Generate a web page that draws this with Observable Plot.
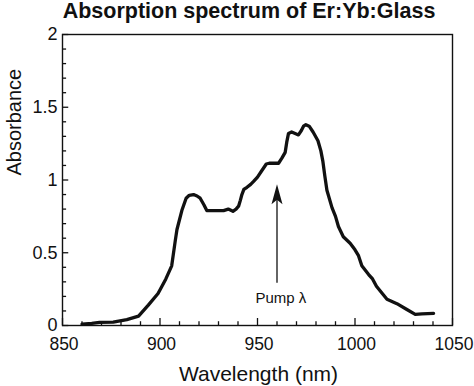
<!DOCTYPE html>
<html>
<head>
<meta charset="utf-8">
<script src="https://cdn.jsdelivr.net/npm/d3@7"></script>
<script src="https://cdn.jsdelivr.net/npm/@observablehq/plot@0.6"></script>
<style>
  html, body { margin: 0; padding: 0; background: #fff; }
</style>
</head>
<body>
<div id="chart"></div>
<script>
const wavelength = [860, 865, 869, 876, 883, 889, 894, 899, 903, 906, 907.8, 908.7, 911.2, 913.4, 915, 917.2, 919, 920.6, 922.5, 924, 928, 932.6, 935, 937.4, 939, 940.3, 941.2, 942, 943, 944.6, 946.5, 948, 950, 952, 954.5, 956, 960.8, 962.5, 964.2, 965, 965.9, 967.5, 969.3, 971, 972.5, 973.6, 974.8, 976.5, 978.5, 981, 982.5, 983.5, 984.5, 985.6, 988.2, 990, 991.5, 994, 997.5, 1000, 1001.8, 1003.5, 1007, 1009, 1011, 1014, 1016.4, 1021.5, 1026.6, 1030.9, 1034.3, 1040.3];
const absorbance = [0.01, 0.015, 0.022, 0.023, 0.04, 0.064, 0.14, 0.22, 0.32, 0.41, 0.58, 0.66, 0.79, 0.875, 0.895, 0.90, 0.89, 0.875, 0.83, 0.79, 0.79, 0.79, 0.80, 0.785, 0.80, 0.82, 0.86, 0.90, 0.935, 0.95, 0.97, 0.99, 1.02, 1.06, 1.11, 1.115, 1.115, 1.15, 1.19, 1.26, 1.32, 1.33, 1.32, 1.31, 1.34, 1.37, 1.38, 1.37, 1.33, 1.27, 1.20, 1.13, 1.03, 0.93, 0.81, 0.75, 0.68, 0.61, 0.565, 0.52, 0.48, 0.41, 0.35, 0.32, 0.27, 0.22, 0.18, 0.15, 0.11, 0.076, 0.08, 0.083];

const xMajorTicks = [850, 900, 950, 1000, 1050];
const xMinorTicks = d3.range(860, 1050, 10).filter(v => v % 50 !== 0);
const yMajorTicks = [0, 0.5, 1, 1.5, 2];
const yMinorTicks = d3.range(1, 20).map(v => v / 10).filter(v => Math.round(v * 10) % 5 !== 0);

const pumpWavelength = [960];
const pumpArrowFrom = 0.29;
const pumpArrowTo = 0.97;
const pumpLabel = "Pump λ";

const titleText = "Absorption spectrum of Er:Yb:Glass";
const xLabel = "Wavelength (nm)";
const yLabel = "Absorbance";

const spectrum = wavelength.map((w, i) => ({w, a: absorbance[i]}));

const arrowHead = {
  draw(ctx, size) {
    const s = Math.sqrt(size / Math.PI) / 5;
    ctx.moveTo(0, 0);
    ctx.lineTo(5.5 * s, 20 * s);
    ctx.lineTo(0, 15.5 * s);
    ctx.lineTo(-5.5 * s, 20 * s);
    ctx.closePath();
  }
};

const chart = Plot.plot({
  width: 474,
  height: 386,
  marginLeft: 62,
  marginRight: 22,
  marginTop: 34,
  marginBottom: 61,
  style: {fontFamily: "'Liberation Sans', Arial, Helvetica, sans-serif", fontSize: "18px", color: "#111", background: "#fff"},
  x: {domain: [850, 1050]},
  y: {domain: [0, 2]},
  marks: [
    Plot.ruleX(xMajorTicks, {x: d => d, y1: 0, y2: 0.048, stroke: "#111", strokeWidth: 1.3}),
    Plot.ruleX(xMinorTicks, {x: d => d, y1: 0, y2: 0.026, stroke: "#111", strokeWidth: 1.3}),
    Plot.ruleY(yMajorTicks, {y: d => d, x1: 850, x2: 853.2, stroke: "#111", strokeWidth: 1.3}),
    Plot.ruleY(yMinorTicks, {y: d => d, x1: 850, x2: 852.1, stroke: "#111", strokeWidth: 1.3}),
    Plot.axisX({ticks: xMajorTicks, tickSize: 0, tickPadding: 12, dx: 1.5, tickFormat: d => String(d), fontSize: 17.5, label: null}),
    Plot.axisY({ticks: yMajorTicks, tickSize: 0, tickPadding: 5, tickFormat: d => String(d), fontSize: 18, label: null}),
    Plot.frame({stroke: "#111", strokeWidth: 1.4}),
    Plot.line(spectrum, {x: "w", y: "a", stroke: "#111", strokeWidth: 3.3, strokeLinejoin: "round", strokeLinecap: "round"}),
    Plot.ruleX(pumpWavelength, {x: d => d, y1: pumpArrowFrom, y2: pumpArrowTo - 0.08, stroke: "#111", strokeWidth: 1.3}),
    Plot.dot(pumpWavelength, {x: d => d, y: pumpArrowTo, symbol: arrowHead, r: 5, fill: "#111", stroke: "none"}),
    Plot.text([pumpLabel], {x: pumpWavelength[0] + 2, y: 0.19, text: d => d, fontSize: 15, fill: "#111", lineAnchor: "middle"}),
    Plot.text([titleText], {frameAnchor: "top", text: d => d, dy: -17, dx: -8.5, lineAnchor: "bottom", fontSize: 21.5, fontWeight: "bold", fill: "#111"}),
    Plot.text([xLabel], {frameAnchor: "bottom", text: d => d, dy: 55, dx: 1, lineAnchor: "bottom", fontSize: 21, fill: "#111"}),
    Plot.text([yLabel], {frameAnchor: "left", text: d => d, rotate: -90, dx: -48, dy: -4.5, lineAnchor: "middle", fontSize: 20, fill: "#111"})
  ]
});
document.getElementById("chart").appendChild(chart);
</script>
</body>
</html>
